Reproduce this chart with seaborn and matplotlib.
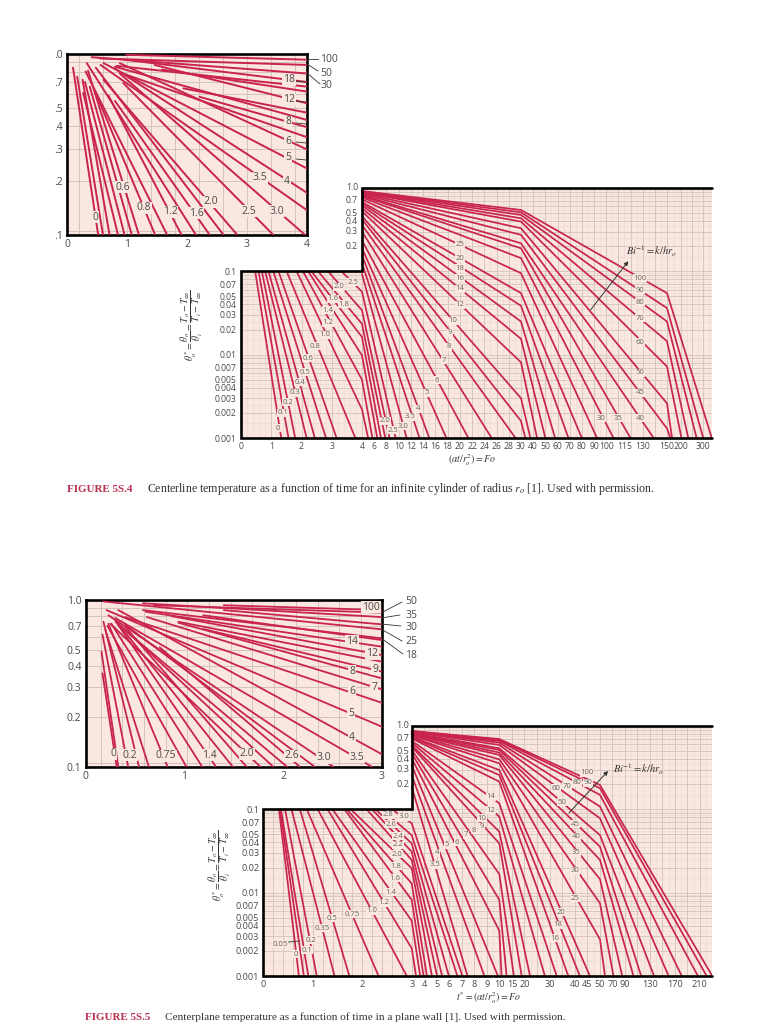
import numpy as np
import pandas as pd
import matplotlib
matplotlib.use("Agg")
import matplotlib.pyplot as plt
import seaborn as sns
from matplotlib.lines import Line2D
from matplotlib.patches import FancyArrowPatch, Rectangle
from matplotlib.ticker import NullLocator

# ---- Infinite cylinder, early-time chart (Fo 0..4) ----
cs_bi = ["0", "0.1", "0.2", "0.3", "0.4", "0.5", "0.6", "0.8", "1.0", "1.2", "1.4", "1.6", "1.8", "2.0", "2.5", "3.0",
         "3.5", "4", "5", "6", "7", "8", "9", "10", "12", "14", "16", "18", "30", "50", "100"]
cs_fo0 = [.10, .17, .26, .27, .30, .38, .35, .46, .31, .69, .33, .80, .48, .61, .94, .88,
          .56, .80, .61, .88, .88, 2.21, .80, 1.94, 1.46, 1.58, .83, .96, .41, .55, .99]
cs_th0 = [.84, .75, .72, .61, .70, .66, .81, .63, .80, .59, .89, .55, .84, .72, .69, .78,
          .87, .83, .89, .89, .79, .58, .85, .646, .87, .82, .86, .93, .96, .945, .99]
cs_fo1 = [.52, .60, .71, .85, .96, 1.08, 1.20, 1.47, 1.67, 1.91, 2.15, 2.38, 2.61, 2.84, 3.44, 3.97,
          4, 4, 4, 4, 4, 4, 4, 4, 4, 4, 4, 4, 4, 4, 4]
cs_th1 = [.1, .1, .1, .1, .1, .1, .1, .1, .1, .1, .1, .1, .1, .1, .1, .1,
          .137, .171, .233, .297, .347, .394, .432, .474, .534, .62, .66, .70, .78, .87, .93]

# ---- Infinite cylinder, full-range chart ----
cl_bi = ["0", "0.1", "0.2", "0.3", "0.4", "0.5", "0.6", "0.8"]
cl_fo_top = [.47, .58, .69, .80, .91, 1.07, 1.24, 1.51]
cl_fo_end = [1.33, 1.57, 1.79, 2.17, 2.44, 2.81, 3.16, 3.78]

ck_bi = ["1.0", "1.2", "1.4", "1.6", "1.8", "2.0", "2.5"]
ck_fo_top = [1.84, 2.05, 2.22, 2.33, 2.55, 2.88, 3.32]
ck_th_4 = [.0022, .0050, .0098, .0163, .0234, .034, .057]
ck_fo_end = [5.0, 5.7, 6.5, 7.1, 7.8, 8.5, 9.5]

cf_bi = ["3.0", "3.5", "4", "5", "6", "7", "8"]
cf_th_4 = [.093, .125, .158, .19, .234, .30, .36]
cf_fo_end = [11.3, 13.4, 15.0, 17.8, 21.4, 25.2, 29.1]

cm_bi = ["9", "10", "12", "14", "16", "18", "20", "25", "30", "35", "40"]
cm_th_4 = [.42, .46, .525, .57, .615, .65, .68, .73, .77, .80, .816]
cm_th_30 = [.0016, .0030, .0081, .0155, .025, .0386, .0548, .095, .144, .189, .217]
cm_fo_end = [33.6, 37.7, 43.2, 50, 58, 69, 80, 92.5, 106, 120, 139]

ch_bi = ["45", "50", "60", "70", "80", "90", "100"]
ch_th_4 = [.84, .863, .883, .895, .906, .914, .92]
ch_th_30 = [.274, .329, .395, .433, .475, .511, .545]
ch_th_150 = [.0013, .0026, .0072, .0145, .025, .0362, .0548]
ch_fo_end = [162, 168, 202, 233, 271, 301, 339]

# ---- Plane wall, early-time chart (Fo 0..3) ----
ws_bi = ["0", "0.1", "0.2", "0.35", "0.5", "0.75", "1.0", "1.2", "1.4", "1.6", "1.8", "2.0", "2.2", "2.4", "2.6", "2.8",
         "3.0", "3.5", "4", "5", "6", "7", "8", "9", "10", "12", "14", "16", "18", "25", "30", "35", "50", "100"]
ws_fo0 = [.17, .16, .17, .18, .20, .23, .22, .26, .30, .33, .40, .25, .31, .36, .75, .40,
          .23, .30, .33, .21, .40, .62, .94, 1.19, .94, .87, .61, 1.19, .58, .18, 1.4, .58, .69, 1.4]
ws_th0 = [.363, .49, .62, .74, .66, .72, .70, .72, .75, .72, .69, .72, .74, .69, .52, .71,
          .81, .78, .87, .87, .79, .79, .73, .67, .74, .80, .85, .81, .87, .98, .87, .955, .93, .93]
ws_fo1 = [.314, .33, .43, .54, .64, .83, 1.02, 1.18, 1.32, 1.49, 1.63, 1.77, 1.90, 2.04, 2.17, 2.32,
          2.51, 2.90, 3, 3, 3, 3, 3, 3, 3, 3, 3, 3, 3, 3, 3, 3, 3, 3]
ws_th1 = [.1, .1, .1, .1, .1, .1, .1, .1, .1, .1, .1, .1, .1, .1, .1, .1,
          .1, .1, .119, .174, .242, .291, .339, .372, .427, .468, .525, .575, .589, .667, .714, .79, .84, .87]

# ---- Plane wall, full-range chart ----
wl_bi = ["0", "0.05", "0.1", "0.2", "0.35", "0.5", "0.75", "1.0"]
wl_fo_top = [.317, .337, .357, .44, .57, .74, .88, 1.10]
wl_fo_end = [.72, .82, .91, 1.08, 1.44, 1.74, 2.33, 2.90]

wk_bi = ["1.2", "1.4", "1.6", "1.8", "2.0", "2.2", "2.4", "2.6", "2.8", "3.0"]
wk_fo_top = [1.30, 1.40, 1.64, 1.69, 1.77, 2.09, 2.20, 2.27, 2.39, 2.60]
wk_th_3 = [.00215, .0046, .0082, .0129, .0196, .0247, .031, .039, .049, .068]
wk_fo_end = [3.35, 3.68, 3.95, 4.22, 4.62, 5.03, 5.43, 5.97, 6.65, 7.05]

wf_bi = ["3.5", "4", "5"]
wf_th_3 = [.187, .258, .34]
wf_fo_end = [7.46, 8.81, 9.89]

wm_bi = ["6", "7", "8", "9", "10", "12", "14", "16", "18", "20"]
wm_th_3 = [.41, .47, .515, .565, .59, .63, .665, .71, .73, .745]
wm_th_10 = [.0035, .0082, .0167, .039, .054, .0817, .118, .215, .258, .296]
wm_fo_end = [10.9, 12.9, 15.8, 18.9, 22.2, 28.1, 32.8, 37.4, 42, 46]

wh_bi = ["25", "30", "35", "40", "45", "50", "60", "70", "80", "90", "100"]
wh_th_3 = [.773, .787, .80, .815, .82, .83, .85, .855, .855, .87, .87]
wh_th_10 = [.356, .398, .449, .479, .515, .54, .592, .631, .661, .679, .698]
wh_th_50 = [.00275, .00745, .0145, .0247, .0356, .049, .078, .108, .149, .179, .196]
wh_fo_end = [58, 71.6, 85.7, 103.7, 116, 136.6, 160, 181, 207, 221, 230]

# ---- Axis tick labels ----
short_y_ticks = [1.0, .7, .5, .4, .3, .2, .1]
cyl_short_ylabels = [".0", ".7", ".5", ".4", ".3", ".2", ".1"]
wall_short_ylabels = ["1.0", "0.7", "0.5", "0.4", "0.3", "0.2", "0.1"]
low_y_ticks = [.1, .07, .05, .04, .03, .02, .01, .007, .005, .004, .003, .002, .001]
low_y_labels = ["0.1", "0.07", "0.05", "0.04", "0.03", "0.02", "0.01", "0.007", "0.005", "0.004", "0.003", "0.002", "0.001"]
high_y_ticks = [1.0, .7, .5, .4, .3, .2]
high_y_labels = ["1.0", "0.7", "0.5", "0.4", "0.3", "0.2"]
cyl_x_ticks = [0, 1, 2, 3, 4, 6, 8, 10, 12, 14, 16, 18, 20, 22, 24, 26, 28, 30, 40, 50, 60, 70, 80, 90, 100, 115, 130, 150, 200, 300]
wall_x_ticks = [0, 1, 2, 3, 4, 5, 6, 7, 8, 9, 10, 15, 20, 30, 40, 45, 50, 70, 90, 130, 170, 210]

RED = "#c9234f"
PINK = "#fae7df"
GRID_DARK = "#d3c3bc"
GRID_LIGHT = "#eddcd5"
TXT = "#4a4a4a"
W, H = 768, 1024

sns.set_theme(style="white")
plt.rcParams["font.family"] = ["Open Sans", "DejaVu Sans"]
plt.rcParams["mathtext.fontset"] = "stix"

fig = plt.figure(figsize=(W / 100, H / 100), dpi=100, facecolor="white")


def panel(x0, y0, x1, y1, zorder=1):
    ax = fig.add_axes([x0 / W, 1 - y1 / H, (x1 - x0) / W, (y1 - y0) / H], zorder=zorder)
    ax.set_facecolor(PINK)
    return ax


def fx(px):
    return px / W


def fy(py):
    return 1 - py / H


def note(px, py, s, size=5.6, color="#666666", box=True, **kw):
    opts = dict(ha="center", va="center", fontsize=size, color=color, zorder=5)
    if box:
        opts["bbox"] = dict(facecolor=PINK, edgecolor="none", pad=0.6)
    opts.update(kw)
    fig.text(fx(px), fy(py), s, **opts)


def leader(x0, y0, x1, y1):
    fig.add_artist(Line2D([fx(x0), fx(x1)], [fy(y0), fy(y1)], color="#333333", lw=0.6, zorder=5))


def straight(names, fo0, th0, fo1, th1):
    rows = []
    for n, a, b, c, d in zip(names, fo0, th0, fo1, th1):
        rows += [(n, a, b), (n, c, d)]
    return pd.DataFrame(rows, columns=["curve", "fo", "theta"])


def draw(ax, df, lw):
    sns.lineplot(data=df, x="fo", y="theta", units="curve", estimator=None, sort=False,
                 color=RED, linewidth=lw, legend=False, ax=ax, zorder=3)
    ax.set_xlabel("")
    ax.set_ylabel("")


def grid(ax, xs, ys, color, lw):
    ax.vlines(xs, 1e-3, 1, color=color, lw=lw, zorder=1)
    ax.hlines(ys, 0, 1000, color=color, lw=lw, zorder=1)


def decade_levels(mults, lo, hi):
    out = []
    for d in range(lo, hi):
        out += [m * 10.0 ** d for m in mults]
    return out


def short_panel(ax, df, xmax, xticks, ylabels, vgrid, lw, size):
    ax.set_yscale("log")
    ax.set_xlim(0, xmax)
    ax.set_ylim(.1, 1)
    grid(ax, vgrid, [.2, .3, .4, .5, .6, .7, .8, .9, .105], GRID_DARK, 0.7)
    draw(ax, df, lw)
    ax.set_xlim(0, xmax)
    ax.set_ylim(.1, 1)
    ax.set_xticks(xticks)
    ax.set_yticks(short_y_ticks)
    ax.set_yticklabels(ylabels)
    ax.yaxis.set_minor_locator(NullLocator())
    ax.tick_params(length=0, labelsize=size, labelcolor=TXT, pad=3)
    for s in ax.spines.values():
        s.set_visible(True)
        s.set_color("black")
        s.set_linewidth(1.9)


def long_panel(ax, df, knots_x, knots_px, knee_x, xticks, xlabels, vminor, vmajor, lw, tick_size, high_x_off):
    ax.set_yscale("log")
    ax.set_xscale("function", functions=(lambda v: np.interp(v, knots_x, knots_px),
                                         lambda v: np.interp(v, knots_px, knots_x)))
    ax.set_xlim(0, knots_x[-1])
    ax.set_ylim(.001, 1)
    grid(ax, vminor, decade_levels([1.5, 2.5, 3.5, 4.5, 5.5, 6.5, 7.5, 8.5, 9.5], -3, 0), GRID_LIGHT, 0.5)
    grid(ax, vmajor, decade_levels([1, 2, 3, 4, 5, 6, 7, 8, 9], -3, 0), GRID_DARK, 0.6)
    # The upper-left corner of the chart is blank: only an L-shaped plot area remains.
    ax.add_patch(Rectangle((0, .1), knee_x, .9, facecolor="white", edgecolor="none", zorder=2))
    draw(ax, df, lw)
    ax.set_xlim(0, knots_x[-1])
    ax.set_ylim(.001, 1)
    ax.set_xticks(xticks)
    ax.set_xticklabels(xlabels)
    ax.xaxis.set_minor_locator(NullLocator())
    ax.set_yticks(low_y_ticks)
    ax.set_yticklabels(low_y_labels)
    ax.yaxis.set_minor_locator(NullLocator())
    ax.tick_params(length=0, labelsize=tick_size, labelcolor=TXT, pad=3)
    for s in ax.spines.values():
        s.set_visible(False)
    edge_x = [knots_x[-1], knee_x, knee_x, 0, 0, knots_x[-1]]
    edge_y = [1, 1, .1, .1, .001, .001]
    ax.plot(edge_x, edge_y, color="black", lw=1.9, clip_on=False, zorder=6, solid_joinstyle="miter")
    for v, s in zip(high_y_ticks, high_y_labels):
        ax.annotate(s, (knee_x, v), xytext=(-high_x_off, 0), textcoords="offset points", ha="right",
                    va="center", fontsize=tick_size, color=TXT, zorder=6, annotation_clip=False)


def long_curves(low, knee, fan, mid, high, top_level=.1, bottom=.001):
    rows = []
    break1, break2 = low["breaks"]
    for n, a, b in zip(*low["cols"]):
        rows += [(n, a, top_level), (n, b, bottom)]
    for n, a, th, b in zip(*knee["cols"]):
        rows += [(n, a, top_level), (n, low["first"], th), (n, b, bottom)]
    for n, th, b in zip(*fan["cols"]):
        rows += [(n, low["first"], th), (n, b, bottom)]
    for n, t0, t1, b in zip(*mid["cols"]):
        rows += [(n, low["first"], t0), (n, break1, t1), (n, b, bottom)]
    for n, t0, t1, t2, b in zip(*high["cols"]):
        rows += [(n, low["first"], t0), (n, break1, t1), (n, break2, t2), (n, b, bottom)]
    return pd.DataFrame(rows, columns=["curve", "fo", "theta"])


# ---- Cylinder panels ----
ax_b = panel(241, 188, 712, 438, zorder=1)
df_b = long_curves(dict(cols=(cl_bi, cl_fo_top, cl_fo_end), first=4, breaks=(30, 150)),
                   dict(cols=(ck_bi, ck_fo_top, ck_th_4, ck_fo_end)),
                   dict(cols=(cf_bi, cf_th_4, cf_fo_end)),
                   dict(cols=(cm_bi, cm_th_4, cm_th_30, cm_fo_end)),
                   dict(cols=(ch_bi, ch_th_4, ch_th_30, ch_th_150, ch_fo_end)))
long_panel(ax_b, df_b, [0, 4, 30, 150, 200, 300, 340], [241, 362, 521, 667, 681, 703, 712], 4,
           cyl_x_ticks, [str(v) for v in cyl_x_ticks],
           np.concatenate([np.arange(0, 4, .2), np.arange(4, 30, 1), np.arange(30, 150, 5), np.arange(150, 340, 25)]),
           np.concatenate([np.arange(0, 4, 1), np.arange(4, 30, 2), np.arange(30, 150, 10), np.arange(150, 340, 50)]),
           1.25, 6.2, 3)

ax_a = panel(67, 54, 307, 235, zorder=3)
short_panel(ax_a, straight(cs_bi, cs_fo0, cs_th0, cs_fo1, cs_th1), 4, [0, 1, 2, 3, 4], cyl_short_ylabels,
            np.arange(.2, 4, .4), 1.4, 7.5)

for px, py, s in [(289, 80, "18"), (289, 100, "12"), (288, 122, "8"), (288, 141, "6"), (288, 158, "5"), (287, 181, "4"),
                  (260, 178, "3.5"), (277, 211, "3.0"), (249, 211, "2.5"), (211, 202, "2.0"), (196, 213, "1.6"),
                  (170, 212, "1.2"), (144, 208, "0.8"), (123, 187, "0.6"), (95, 217, "0")]:
    note(px, py, s, size=7.5, color=TXT)
for px, py, s in [(329, 59, "100"), (326, 73, "50"), (326, 85, "30")]:
    note(px, py, s, size=7.5, color=TXT, box=False)
leader(307, 59, 318, 59)
leader(307, 64, 318, 71)
leader(307, 73, 320, 84)
for py in [80, 100, 122, 141, 158]:
    leader(296, py + 1, 306, py + 2)

cyl_b_notes = [(278, 428, "0"), (283, 413, "0.1"), (288, 402, "0.2"), (295, 393, "0.3"), (300, 382, "0.4"),
               (305, 372, "0.5"), (308, 358, "0.6"), (315, 346, "0.8"), (325, 335, "1.0"), (328, 323, "1.2"),
               (328, 310, "1.4"), (333, 299, "1.6"), (344, 304, "1.8"), (339, 287, "2.0"), (353, 282, "2.5"),
               (385, 421, "2.0"), (393, 430, "2.5"), (403, 426, "3.0"), (410, 417, "3.5"), (418, 409, "4"),
               (427, 393, "5"), (437, 380, "6"), (444, 360, "7"), (449, 347, "8"), (450, 333, "9"), (453, 321, "10"),
               (460, 305, "12"), (460, 289, "14"), (460, 278, "16"), (460, 268, "18"), (460, 258, "20"), (460, 245, "25"),
               (640, 278, "100"), (640, 290, "90"), (640, 302, "80"), (640, 318, "70"), (640, 342, "60"), (640, 373, "50"),
               (640, 393, "45"), (640, 418, "40"), (618, 418, "35"), (601, 418, "30")]
for px, py, s in cyl_b_notes:
    note(px, py, s)

fig.text(fx(192), fy(325), r"$\theta^{*}_{o}=\dfrac{\theta_{o}}{\theta_{i}}=\dfrac{T_{o}-T_{\infty}}{T_{i}-T_{\infty}}$",
         rotation=90, ha="center", va="center", fontsize=7, color="#333333")
fig.text(fx(472), fy(460), r"$(\alpha t/r_{o}^{2})=Fo$", ha="center", va="center", fontsize=7, color="#333333")
fig.text(fx(651), fy(251), r"$\mathbf{\mathit{Bi}}^{-1}=k/hr_{o}$", ha="center", va="center", fontsize=7.5, color="#333333")
fig.add_artist(FancyArrowPatch((fx(589), fy(312)), (fx(630), fy(259)), transform=fig.transFigure, arrowstyle="-|>",
                               mutation_scale=6, lw=0.7, color="#333333", zorder=5))

fig.text(fx(67), fy(489), "FIGURE 5S.4", ha="left", va="center", fontsize=7.9, color="#b5304f",
         family="Liberation Serif", weight="bold")
fig.text(fx(147), fy(489), r"Centerline temperature as a function of time for an infinite cylinder of radius $r_o$ [1]. Used with permission.",
         ha="left", va="center", fontsize=8.6, color="#333333", family="Liberation Serif")

# ---- Plane wall panels ----
ax_d = panel(263.3, 726, 712.3, 976, zorder=1)
df_d = long_curves(dict(cols=(wl_bi, wl_fo_top, wl_fo_end), first=3, breaks=(10, 50)),
                   dict(cols=(wk_bi, wk_fo_top, wk_th_3, wk_fo_end)),
                   dict(cols=(wf_bi, wf_th_3, wf_fo_end)),
                   dict(cols=(wm_bi, wm_th_3, wm_th_10, wm_fo_end)),
                   dict(cols=(wh_bi, wh_th_3, wh_th_10, wh_th_50, wh_fo_end)))
long_panel(ax_d, df_d, [0, 3, 10, 50, 230], [263.3, 411.7, 499.3, 600, 712.3], 3,
           wall_x_ticks, [str(v) for v in wall_x_ticks],
           np.concatenate([np.arange(3, 10, .5), np.arange(10, 50, 2.5), np.arange(50, 230, 10)]),
           np.concatenate([np.arange(0, 3, .2), np.arange(3, 10, 1), np.arange(10, 50, 5), np.arange(50, 230, 20)]),
           1.25, 6.6, 2)

ax_c = panel(85.7, 600, 381.7, 766.7, zorder=3)
short_panel(ax_c, straight(ws_bi, ws_fo0, ws_th0, ws_fo1, ws_th1), 3, [0, 1, 2, 3], wall_short_ylabels,
            np.arange(.15, 3, .22), 1.3, 7.5)

for px, py, s in [(371, 607, "100"), (352, 641, "14"), (372, 654, "12"), (375, 669, "9"), (352, 671, "8"), (374, 687, "7"),
                  (352, 692, "6"), (351, 713, "5"), (352, 738, "4"), (357, 757, "3.5"), (324, 758, "3.0"), (292, 756, "2.6"),
                  (247, 754, "2.0"), (209, 755, "1.4"), (166, 756, "0.75"), (130, 755, "0.2"), (113, 754, "0")]:
    note(px, py, s, size=7.5, color=TXT)
for px, py, s in [(411, 601, "50"), (411, 616, "35"), (411, 627, "30"), (411, 642, "25"), (411, 656, "18")]:
    note(px, py, s, size=7.5, color=TXT, box=False)
for a, b, c, d in [(381, 613, 402, 602), (381, 618, 400, 615), (381, 624, 401, 626), (381, 629, 402, 641), (381, 638, 403, 654)]:
    leader(a, b, c, d)

wall_d_notes = [(296, 954, "0"), (280, 944, "0.05"), (307, 950, "0.1"), (311, 940, "0.2"), (322, 928, "0.35"),
                (332, 918, "0.5"), (352, 914, "0.75"), (372, 911, "1.0"), (384, 903, "1.2"), (391, 892, "1.4"),
                (395, 878, "1.6"), (396, 866, "1.8"), (397, 854, "2.0"), (398, 845, "2.2"), (398, 836, "2.4"),
                (391, 824, "2.6"), (388, 815, "2.8"), (404, 817, "3.0"), (435, 865, "3.5"), (437, 853, "4"),
                (447, 845, "5"), (457, 842, "6"), (466, 835, "7"), (474, 830, "8"), (482, 827, "9"), (482, 818, "10"),
                (491, 810, "12"), (491, 797, "14"), (587, 773, "100"), (588, 783, "90"), (577, 783, "80"), (567, 786, "70"),
                (556, 788, "60"), (562, 802, "50"), (575, 824, "45"), (576, 837, "40"), (576, 853, "35"), (575, 871, "30"),
                (575, 898, "25"), (561, 912, "20"), (558, 925, "18"), (555, 938, "16")]
for px, py, s in wall_d_notes:
    note(px, py, s)
leader(288, 942, 300, 941)

fig.text(fx(220), fy(865), r"$\theta^{*}_{o}=\dfrac{\theta_{o}}{\theta_{i}}=\dfrac{T_{o}-T_{\infty}}{T_{i}-T_{\infty}}$",
         rotation=90, ha="center", va="center", fontsize=7, color="#333333")
fig.text(fx(488), fy(998), r"$t^{*}=(\alpha t/r_{o}^{2})=Fo$", ha="center", va="center", fontsize=7, color="#333333")
fig.text(fx(638), fy(769), r"$\mathbf{\mathit{Bi}}^{-1}=k/hr_{o}$", ha="center", va="center", fontsize=7.5, color="#333333")
fig.add_artist(FancyArrowPatch((fx(567), fy(815)), (fx(610), fy(769)), transform=fig.transFigure, arrowstyle="-|>",
                               mutation_scale=6, lw=0.7, color="#333333", zorder=5))

fig.text(fx(85), fy(1022), "FIGURE 5S.5", ha="left", va="bottom", fontsize=7.9, color="#b5304f",
         family="Liberation Serif", weight="bold")
fig.text(fx(165), fy(1022), "Centerplane temperature as a function of time in a plane wall [1]. Used with permission.",
         ha="left", va="bottom", fontsize=8.1, color="#333333", family="Liberation Serif")

fig.savefig("out.png", dpi=100)
